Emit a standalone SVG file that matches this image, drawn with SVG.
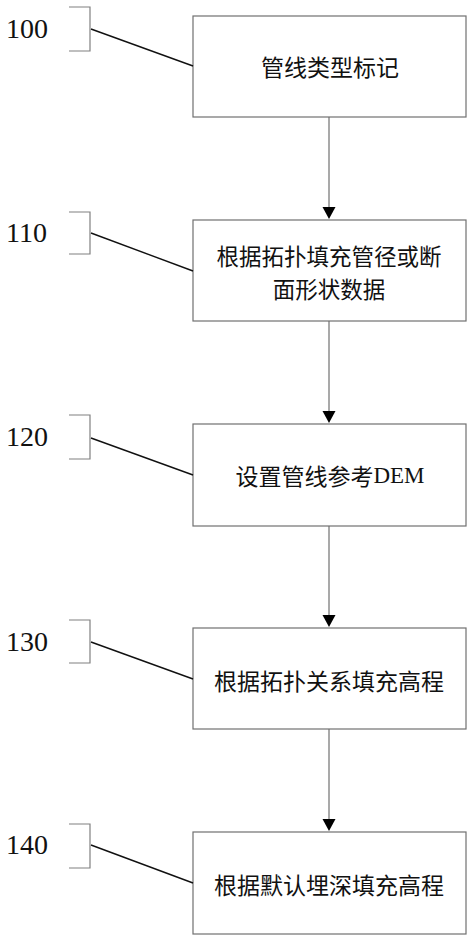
<svg xmlns="http://www.w3.org/2000/svg" width="474" height="942" viewBox="0 0 474 942">
<style>
.box{fill:#fff;stroke:#707070;stroke-width:1.2}
.br{fill:none;stroke:#808080;stroke-width:1.2}
.lead{stroke:#111;stroke-width:1.4}
.conn{stroke:#707070;stroke-width:1.2;fill:none}
.head{fill:#000}
.t{font-family:"Noto Sans CJK SC","Noto Sans",sans-serif;font-size:23px;fill:#111;text-anchor:middle;dominant-baseline:central}
.lbl{font-family:"Liberation Serif","Times New Roman",serif;font-size:28px;fill:#111}
.lat{font-family:"Liberation Serif",serif}
</style>
<rect width="474" height="942" fill="#fff"/>
<g id="connectors">
<path class="conn" d="M329,117 V207"/>
<path class="head" d="M322.5,207 L335.5,207 L329,219 Z"/>
<path class="conn" d="M329,321 V411"/>
<path class="head" d="M322.5,411 L335.5,411 L329,423 Z"/>
<path class="conn" d="M329,526 V615"/>
<path class="head" d="M322.5,615 L335.5,615 L329,627 Z"/>
<path class="conn" d="M329,729 V819"/>
<path class="head" d="M322.5,819 L335.5,819 L329,831 Z"/>
</g>
<g id="n100">
<rect class="box" x="193" y="16" width="273" height="101"/>
<text class="t" x="330" y="66">管线类型标记</text>
<path class="br" d="M69,7 H90 V51 H69"/>
<line class="lead" x1="91" y1="29" x2="193" y2="66"/>
<text class="lbl" x="6" y="38">100</text>
</g>
<g id="n110">
<rect class="box" x="193" y="220" width="273" height="101"/>
<text class="t" x="329" y="255" style="font-size:22.5px">根据拓扑填充管径或断</text>
<text class="t" x="329" y="288" style="font-size:22.5px">面形状数据</text>
<path class="br" d="M69,212 H90 V254 H69"/>
<line class="lead" x1="91" y1="233" x2="193" y2="271"/>
<text class="lbl" x="6" y="242">110</text>
</g>
<g id="n120">
<rect class="box" x="193" y="424" width="273" height="102"/>
<text class="t" x="330" y="475">设置管线参考<tspan class="lat">DEM</tspan></text>
<path class="br" d="M69,415 H90 V459 H69"/>
<line class="lead" x1="91" y1="438" x2="193" y2="475"/>
<text class="lbl" x="6" y="446">120</text>
</g>
<g id="n130">
<rect class="box" x="193" y="628" width="273" height="101"/>
<text class="t" x="329" y="680">根据拓扑关系填充高程</text>
<path class="br" d="M69,620 H90 V663 H69"/>
<line class="lead" x1="91" y1="642" x2="193" y2="679"/>
<text class="lbl" x="6" y="651">130</text>
</g>
<g id="n140">
<rect class="box" x="193" y="832" width="273" height="102"/>
<text class="t" x="329" y="884">根据默认埋深填充高程</text>
<path class="br" d="M69,824 H90 V868 H69"/>
<line class="lead" x1="91" y1="845" x2="193" y2="883"/>
<text class="lbl" x="6" y="854">140</text>
</g>
</svg>
